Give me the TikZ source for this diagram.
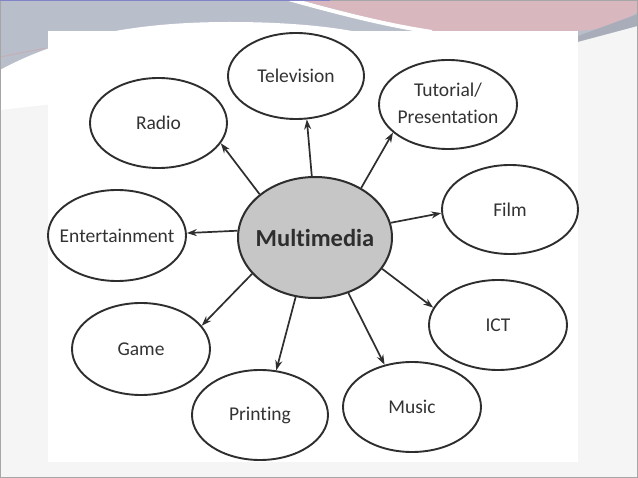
\documentclass[tikz,border=0pt]{standalone}
\usepackage{fontspec}
\setmainfont[Ligatures=NoCommon]{Carlito}
\usetikzlibrary{arrows.meta,shapes.geometric}
\definecolor{bgout}{HTML}{F5F5F5}
\definecolor{bandblue}{HTML}{B9BECB}
\definecolor{bandred}{HTML}{D9B7BE}
\definecolor{inkc}{HTML}{2E2E2E}
\definecolor{txtc}{HTML}{333333}
\definecolor{mmfill}{HTML}{C6C6C6}
\newcommand{\lbl}[1]{\makebox[0pt]{#1}}
\tikzset{
  bub/.style={ellipse, draw=inkc, line width=1.9pt, fill=white, inner sep=0pt,
    text=txtc, font=\fontsize{19.5}{24}\selectfont},
  hub/.style={ellipse, draw=inkc, line width=2pt, fill=mmfill, inner sep=0pt,
    text=inkc, font=\fontsize{24.5}{28}\selectfont\bfseries},
  arr/.style={draw=inkc, line width=1.7pt, -{Stealth[length=10pt,width=7pt]}}
}
\begin{document}
\begin{tikzpicture}[x=1pt,y=-1pt]
\useasboundingbox (0,0) rectangle (638,478);
% slide background
\fill[bgout] (0,0) rectangle (638,478);
\fill[bandblue] (0,0) -- (638,0) -- (638,42) -- (578,42) -- (0,75) -- cycle;
\fill[bandred] (300,0) -- (638,0) -- (638,12) .. controls (615,26) and (600,30) .. (575,31)
  -- (430,31) .. controls (385,24) and (340,10) .. (300,0) -- cycle;
\fill[bandblue!85!black!60!bandblue] (578,36) -- (638,14) -- (638,26) -- (578,42) -- cycle;
\fill[bgout] (578,42) -- (638,26) -- (638,478) -- (578,478) -- cycle;
\draw[white, line width=4pt] (285,-2) .. controls (335,12) and (385,25) .. (432,32);
\fill[white] (0,70) .. controls (70,32) and (150,22) .. (230,22)
  .. controls (290,22) and (330,27) .. (352,31) -- (352,70) -- (0,110) -- cycle;
\draw[bandred!80!gray, line width=0.8pt] (0,57) -- (46,48);
\fill[white] (48,31) rectangle (578,462);
\draw[gray!70, line width=1pt] (0.5,0.5) rectangle (637.5,477.5);
\draw[blue!40!gray!70, line width=0.8pt] (0,0.5) -- (330,0.5);
% nodes
\node[hub, minimum width=154pt, minimum height=121pt] (mm) at (315,237.5) {\lbl{Multimedia}};
\node[bub, minimum width=137pt, minimum height=90pt] (radio) at (158.5,123) {\lbl{Radio}};
\node[bub, minimum width=136pt, minimum height=86pt] (tv) at (296,76) {\lbl{Television}};
\node[bub, minimum width=138pt, minimum height=89pt] (tut) at (448,104.5)
  {\lbl{\renewcommand\arraystretch{1.15}\begin{tabular}{@{}c@{}}Tutorial/\\Presentation\end{tabular}}};
\node[bub, minimum width=136pt, minimum height=89pt] (film) at (510,209.5) {\lbl{Film}};
\node[bub, minimum width=138pt, minimum height=91pt] (ent) at (117,235.5) {\lbl{Entertainment}};
\node[bub, minimum width=138pt, minimum height=92pt] (game) at (141,349) {\lbl{Game}};
\node[bub, minimum width=136pt, minimum height=90pt] (print) at (260,415) {\lbl{Printing}};
\node[bub, minimum width=138pt, minimum height=90pt] (music) at (412,407) {\lbl{Music}};
\node[bub, minimum width=138pt, minimum height=90pt] (ict) at (498,325) {\lbl{ICT}};
% connectors
\draw[arr] (mm.142.3) -- (radio.-18.6);
\draw[arr] (mm.93.8) -- (tv.-76.8);
\draw[arr] (mm.47.1) -- (tut.207.8);
\draw[arr] (mm.11.1) -- (film.183.8);
\draw[arr] (mm.175.9) -- (ent.2.9);
\draw[arr] (mm.210.8) -- (game.21.2);
\draw[arr] (mm.252.3) -- (print.70.1);
\draw[arr] (mm.301.5) -- (music.123.7);
\draw[arr] (mm.335.8) -- (ict.165.2);
\end{tikzpicture}
\end{document}
